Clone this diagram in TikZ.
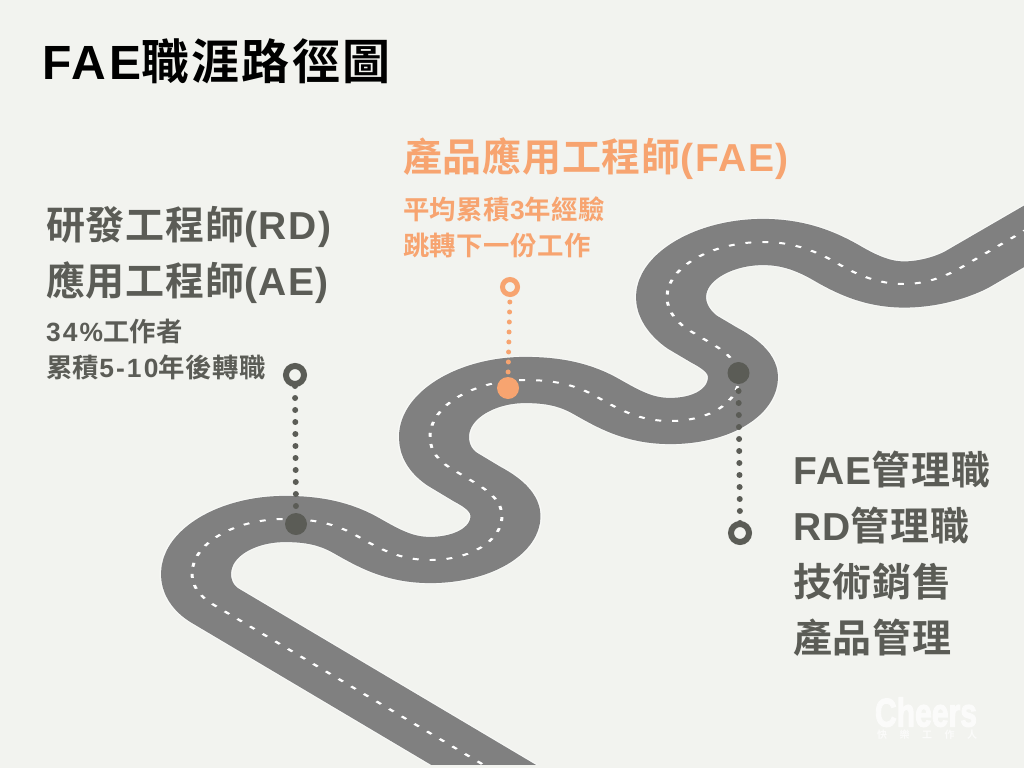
\documentclass[tikz,border=0pt]{standalone}
\usepackage{fontspec}
\setmainfont{Noto Sans CJK TC Bold}
\newfontfamily\cjkls[LetterSpace=2]{Noto Sans CJK TC Bold}
\newfontfamily\cjktitle[LetterSpace=5]{Noto Sans CJK TC Bold}
\newfontfamily\lattitle[LetterSpace=6]{Liberation Sans Bold}
\newfontfamily\lathead[LetterSpace=4]{Liberation Sans Bold}
\newfontfamily\latsub[LetterSpace=8]{Liberation Sans Bold}
\newfontfamily\logofont[FakeBold=3]{Liberation Sans Bold}
\newfontfamily\logosub[LetterSpace=125]{Noto Sans CJK TC Bold}
\newcommand{\latT}[1]{{\lattitle #1}}
\newcommand{\latH}[1]{{\lathead #1}}
\newcommand{\latS}[1]{{\latsub #1}}
\definecolor{bgc}{HTML}{F2F3EF}
\definecolor{roadc}{HTML}{808080}
\definecolor{inkc}{HTML}{5B5C56}
\definecolor{orangec}{HTML}{F7A470}
\definecolor{glowc}{HTML}{F8F9F7}
\definecolor{logoc}{HTML}{FBFBFA}
\tikzset{
 x=1pt,y=-1pt,
 lbl/.style={anchor=base west,inner sep=0pt,outer sep=0pt,align=left},
 titlelbl/.style={lbl,text=black,font=\fontsize{48}{48}\selectfont\cjktitle},
 headlbl/.style={lbl,font=\fontsize{39}{39}\selectfont\cjkls},
 sublbl/.style={lbl,font=\fontsize{26.4}{26.4}\selectfont\cjkls},
 ringnode/.style={circle,draw=#1,line width=6pt,fill=none,inner sep=0pt,outer sep=0pt,minimum size=18pt},
 bignode/.style={circle,fill=#1,inner sep=0pt,outer sep=0pt,minimum size=22pt},
 dotline/.style={draw=#1,line width=6pt,line cap=round,dash pattern=on 0pt off 12pt},
}
\def\roadpath{(520,786.5) -- (214,605)
 .. controls (203,598) and (196,587) .. (196,574)
 .. controls (196,543) and (237,519) .. (285,519)
 .. controls (312,519) and (335,523) .. (358,536.5)
 .. controls (380,549) and (400,560) .. (430,560)
 .. controls (472,560) and (505.5,541) .. (505.5,516)
 .. controls (505.5,502) and (492,492) .. (477,484)
 -- (452,469)
 .. controls (442,462) and (434,452) .. (434,437)
 .. controls (434,405) and (477,380) .. (525,380)
 .. controls (552,380) and (575,384) .. (598,397.5)
 .. controls (620,410) and (640,421) .. (670,421)
 .. controls (712,421) and (743,402) .. (743,377)
 .. controls (743,363) and (729,353) .. (714,345)
 -- (692,332)
 .. controls (681,324) and (671,312) .. (671,297)
 .. controls (671,267) and (714,242) .. (763,242)
 .. controls (790,242) and (812,249) .. (835,262)
 .. controls (857,275) and (878,284.5) .. (904,284.5)
 .. controls (925,284.5) and (948,279) .. (966,270)
 -- (1060,215.5)}
\def\dashpath{(520,786.5) -- (214,605)
 .. controls (200,597) and (192,586) .. (192,574)
 .. controls (192,543) and (235,519) .. (285,519)
 .. controls (312,519) and (335,523) .. (358,536.5)
 .. controls (380,549) and (400,560) .. (430,560)
 .. controls (470,560) and (502,541) .. (502,516)
 .. controls (502,502) and (490,492) .. (477,484)
 -- (452,469)
 .. controls (440,462) and (430,452) .. (430,437)
 .. controls (430,405) and (475,380) .. (525,380)
 .. controls (552,380) and (575,384) .. (598,397.5)
 .. controls (620,410) and (640,421) .. (670,421)
 .. controls (710,421) and (739,402) .. (739,377)
 .. controls (739,363) and (727,353) .. (714,345)
 -- (692,332)
 .. controls (678,324) and (667,312) .. (667,297)
 .. controls (667,267) and (712,242) .. (763,242)
 .. controls (790,242) and (812,249) .. (835,262)
 .. controls (857,275) and (878,284) .. (904,284)
 .. controls (925,284) and (945,277) .. (962,267)
 -- (1060,210)}
\begin{document}
\begin{tikzpicture}
\useasboundingbox[fill=bgc] (0,0) rectangle (1024,768);
\begin{scope}
\clip (0,0) rectangle (1024,764);
\begin{scope}[transform canvas={yscale=0.66},yscale=1.51515]
\draw[glowc,line width=73pt,line join=round] \roadpath;
\draw[roadc,line width=70pt,line join=round] \roadpath;
\draw[white,line width=3pt,dash pattern=on 6pt off 11pt] \dashpath;
\end{scope}
\end{scope}
\node[titlelbl] (title) at (42,79) {\latT{FAE}職涯路徑圖};
\node[headlbl,text=orangec] (fae) at (403,171) {產品應用工程師\latH{(FAE)}};
\node[sublbl,text=orangec] (fae1) at (403,219) {平均累積\latS{3}年經驗};
\node[sublbl,text=orangec] (fae2) at (403,255) {跳轉下一份工作};
\node[headlbl,text=inkc] (rd) at (46,239) {研發工程師\latH{(RD)}};
\node[headlbl,text=inkc] (ae) at (46,295) {應用工程師\latH{(AE)}};
\node[sublbl,text=inkc] (rd1) at (46,341) {\latS{34\%}工作者};
\node[sublbl,text=inkc] (rd2) at (46,377) {累積\latS{5-10}年後轉職};
\node[headlbl,text=inkc] (m1) at (793,484) {\latH{FAE}管理職};
\node[headlbl,text=inkc] (m2) at (793,540) {\latH{RD}管理職};
\node[headlbl,text=inkc] (m3) at (793,596) {技術銷售};
\node[headlbl,text=inkc] (m4) at (793,652) {產品管理};
\node[ringnode=inkc] (r1) at (295,375) {};
\node[bignode=inkc] (b1) at (296,524) {};
\draw[dotline=inkc,shorten <=2pt] (r1.south) -- (b1.north);
\node[ringnode=orangec,line width=5pt,minimum size=15pt] (r2) at (510,287) {};
\node[bignode=orangec] (b2) at (508,388) {};
\draw[dotline=orangec,line width=5pt,dash pattern=on 0pt off 10pt,shorten <=7.5pt] (r2.south) -- (b2.north);
\node[bignode=inkc] (b3) at (738.5,373) {};
\node[ringnode=inkc] (r3) at (740,533) {};
\draw[dotline=inkc,shorten <=7pt] (b3.south) -- (r3.north);
\node[lbl,text=logoc,font=\logofont\fontsize{36}{36}\selectfont] (logo) at (875,726.5) {\resizebox{102pt}{29pt}{Cheers}};
\node[lbl,text=logoc,font=\fontsize{10}{10}\selectfont\logosub] (logosub) at (877,738) {快樂工作人};
\end{tikzpicture}
\end{document}
